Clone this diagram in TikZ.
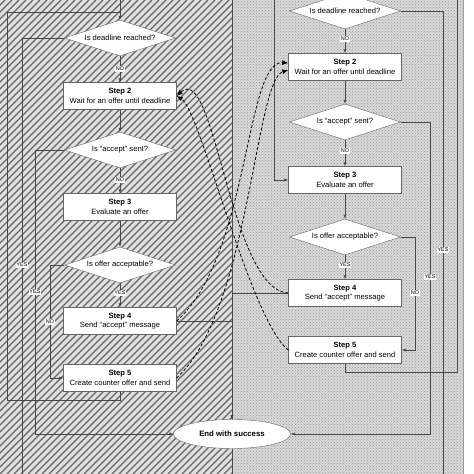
\documentclass[tikz,border=0pt]{standalone}
\usepackage{fontspec}
\setmainfont{Liberation Sans}
\usetikzlibrary{shapes.geometric,arrows.meta,calc,patterns}
\begin{document}
\begin{tikzpicture}[x=1pt,y=-1pt,
  conn/.style={draw=black!72, line width=0.6pt, -{Latex[length=4pt,width=3.2pt]}},
  plain/.style={draw=black!72, line width=0.6pt},
  msg/.style={draw=black, line width=0.8pt, densely dashed, -{Latex[length=6pt,width=5pt]}},
  stepbox/.style={draw=black!60, fill=white, minimum width=113pt, minimum height=27pt, inner sep=1pt, align=center, font=\fontsize{7.6}{9.5}\selectfont},
  decision/.style={draw=black!60, fill=white, shape=diamond, aspect=3, inner sep=0pt, minimum width=111pt, minimum height=36pt, font=\fontsize{7.6}{9}\selectfont},
  lab/.style={fill=white, inner sep=0.7pt, font=\fontsize{5.5}{6}\selectfont},
  terminal/.style={draw=black!60, fill=white, shape=ellipse, minimum width=117pt, minimum height=29pt, inner sep=0pt, font=\bfseries\fontsize{7.8}{9}\selectfont}
]
\useasboundingbox (0,0) rectangle (474,474);
\clip (0,0) rectangle (474,474);
% backgrounds
\fill[white] (0,0) rectangle (474,474);
\fill[black!12] (0,0) rectangle (232,474);
\begin{scope}
  \clip (0,0) rectangle (232,474);
  \foreach \i in {-476,-469,...,236} \draw[line width=1.25pt, black!60] (\i,474) -- ++(474,-474);
\end{scope}
\fill[black!15] (232,0) rectangle (463,474);
\fill[pattern=crosshatch dots, pattern color=black!40] (232,0) rectangle (463,474);
\draw[black!40, line width=0.8pt] (463,0) -- (463,474);
\draw[black!70, line width=0.7pt] (232,0) -- (232,474);

% left agent
\node[decision] (ld1) at (120,38) {Is deadline reached?};
\node[stepbox] (l2) at (120,96) {\textbf{Step 2}\\Wait for an offer until deadline};
\node[decision] (ld2) at (120,150) {Is ``accept'' sent?};
\node[stepbox] (l3) at (120,207) {\textbf{Step 3}\\Evaluate an offer};
\node[decision] (ld3) at (120,265) {Is offer acceptable?};
\node[stepbox] (l4) at (120,321) {\textbf{Step 4}\\Send ``accept'' message};
\node[stepbox] (l5) at (120,378) {\textbf{Step 5}\\Create counter offer and send};

% right agent
\node[decision] (rd1) at (345,11) {Is deadline reached?};
\node[stepbox] (r2) at (345,67) {\textbf{Step 2}\\Wait for an offer until deadline};
\node[decision] (rd2) at (345,122) {Is ``accept'' sent?};
\node[stepbox] (r3) at (345,180) {\textbf{Step 3}\\Evaluate an offer};
\node[decision] (rd3) at (345,237) {Is offer acceptable?};
\node[stepbox] (r4) at (345,293) {\textbf{Step 4}\\Send ``accept'' message};
\node[stepbox] (r5) at (345,350) {\textbf{Step 5}\\Create counter offer and send};

\node[terminal] (end) at (232,434) {End with success};

% free ends and corners
\coordinate (ltop) at (120,0);
\coordinate (ljoin) at (120,12);
\coordinate (lbl) at (7,400);
\coordinate (lyes) at (22,474);
\coordinate (lc2) at (35,434);
\coordinate (lc3) at (50,378);
\coordinate (ryes) at (443,474);
\coordinate (rc2) at (430,434);
\coordinate (rc3) at (415,350);
\coordinate (rtop) at (274,0);
\coordinate (rloop) at (457,372);
\coordinate (rloopt) at (457,0);

% left connectors
\draw[conn] (ltop) -- (ld1.north);
\draw[plain] (l5.south) |- (lbl) |- (ljoin);
\draw[plain] (ld1.west) -| (lyes);
\draw[conn] (ld1.south) -- (l2.north);
\draw[conn] (l2.south) -- (ld2.north);
\draw[conn] (ld2.west) -| (lc2) -- (end.west);
\draw[conn] (ld2.south) -- (l3.north);
\draw[conn] (l3.south) -- (ld3.north);
\draw[conn] (ld3.west) -| (lc3) -- (l5.west);
\draw[conn] (ld3.south) -- (l4.north);
\draw[conn] (l4.east) -| (end.north);

% right connectors
\draw[plain] (rd1.east) -| (ryes);
\draw[conn] (rd1.south) -- (r2.north);
\draw[conn] (r2.south) -- (rd2.north);
\draw[conn] (rd2.east) -| (rc2) -- (end.east);
\draw[conn] (rd2.south) -- (r3.north);
\draw[conn] (rtop) |- (r3.west);
\draw[conn] (r3.south) -- (rd3.north);
\draw[conn] (rd3.east) -| (rc3) -- (r5.east);
\draw[conn] (rd3.south) -- (r4.north);
\draw[conn] (r4.west) -| (end.north);
\draw[plain] (r5.south) |- (rloop) -- (rloopt);

% messages between agents
\draw[msg] (l4.east) .. controls (250,255) and (245,60) .. ($(r2.west)+(0,-4)$);
\draw[msg] (l5.east) .. controls (250,310) and (255,80) .. ($(r2.west)+(0,3)$);
\draw[msg] (r4.west) .. controls (230,290) and (215,60) .. (l2.east);
\draw[msg] (r5.west) .. controls (250,320) and (200,110) .. (l2.east);

% labels
\node[lab] (ln1) at (120,69) {NO};
\node[lab] (ln2) at (120,180) {NO};
\node[lab] (ly3) at (120,293) {YES};
\node[lab] (ly1) at (22,265) {YES};
\node[lab] (ly2) at (35,292) {YES};
\node[lab] (ln3) at (50,322) {NO};
\node[lab] (rn1) at (345,39) {NO};
\node[lab] (rn2) at (345,151) {NO};
\node[lab] (ry3) at (345,265) {YES};
\node[lab] (ry1) at (443,250) {YES};
\node[lab] (ry2) at (430,277) {YES};
\node[lab] (rn3) at (415,293) {NO};
\end{tikzpicture}
\end{document}
